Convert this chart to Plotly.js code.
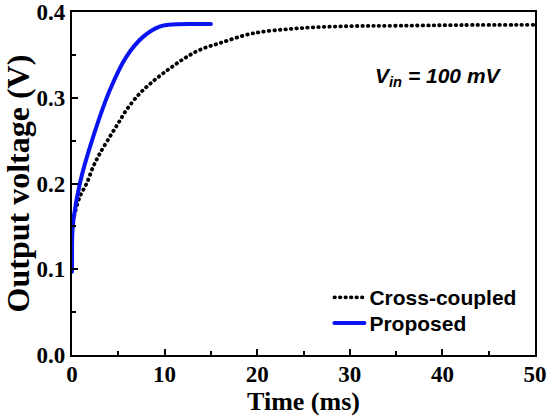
<!DOCTYPE html>
<html><head><meta charset="utf-8">
<script src="https://cdn.plot.ly/plotly-3.0.1.min.js"></script>
<style>html,body{margin:0;padding:0;background:#fff}#chart{width:550px;height:418px}
.js-line{stroke-linecap:round}</style>
</head><body><div id="chart"></div>
<script>
var crossT = [0, 0.1, 0.32, 0.86, 1.58, 2.29, 3.01, 4.09, 4.98, 5.88, 7.31, 8.92, 10.54, 12.15, 13.76, 15.9, 19.5, 24.5, 30, 35.3, 42, 50];
var crossV = [0.15, 0.157, 0.166, 0.185, 0.200, 0.2196, 0.235, 0.2546, 0.270, 0.2857, 0.305, 0.3207, 0.334, 0.346, 0.3557, 0.3635, 0.375, 0.381, 0.3835, 0.384, 0.3848, 0.385];
var propT = [0, 0.03, 0.15, 0.86, 2.29, 4.09, 5.88, 7.67, 9.46, 11.26, 13, 15];
var propV = [0.097, 0.14, 0.157, 0.2006, 0.2546, 0.309, 0.348, 0.371, 0.383, 0.3856, 0.386, 0.386];
var seriesNames = ['Cross-coupled', 'Proposed'];
var xTicks = [0, 10, 20, 30, 40, 50];
var yTicks = [0.0, 0.1, 0.2, 0.3, 0.4];
var noteText = '<i>V<sub>in</sub> = 100 mV</i>';

var serif = '"Liberation Serif", "Times New Roman", serif';
var sans = '"Liberation Sans", Arial, sans-serif';
var legendFont = {family: sans, size: 21, color: '#000', weight: 'bold'};

var traces = [
  {x: crossT, y: crossV, name: seriesNames[0], legend: 'legend', mode: 'lines', line: {color: '#000', width: 3.8, dash: '0.5px,5px', shape: 'spline'}},
  {x: propT, y: propV, name: seriesNames[1], legend: 'legend2', mode: 'lines', line: {color: '#0a14f0', width: 4, shape: 'spline'}}
];
var layout = {
  width: 550, height: 418,
  margin: {l: 72, r: 15, t: 12, b: 63},
  paper_bgcolor: '#fff', plot_bgcolor: '#fff',
  font: {family: serif, size: 23, color: '#000', weight: 'bold'},
  showlegend: true,
  legend: {x: 0.556, y: 0.227, xanchor: 'left', yanchor: 'top', bgcolor: 'rgba(0,0,0,0)', font: legendFont},
  legend2: {x: 0.556, y: 0.152, xanchor: 'left', yanchor: 'top', bgcolor: 'rgba(0,0,0,0)', font: legendFont},
  xaxis: {range: [0, 50], tickmode: 'array', tickvals: xTicks, ticktext: xTicks.map(String),
    showgrid: false, zeroline: false, showline: true, linecolor: '#000', linewidth: 2.2, mirror: true,
    ticks: 'inside', ticklen: 6, tickwidth: 2, tickcolor: '#000', ticklabelstandoff: -3,
    tickfont: {family: serif, size: 23, color: '#000', weight: 'bold'},
    minor: {dtick: 5, tick0: 0, ticks: 'inside', ticklen: 4, tickwidth: 2, tickcolor: '#000'},
    title: {text: 'Time (ms)', font: {family: serif, size: 26, color: '#000', weight: 'bold'}, standoff: 0}},
  yaxis: {range: [0, 0.4], tickmode: 'array', tickvals: yTicks, ticktext: yTicks.map(function(v){return v.toFixed(1);}),
    showgrid: false, zeroline: false, showline: true, linecolor: '#000', linewidth: 2.2, mirror: true,
    ticks: 'inside', ticklen: 6, tickwidth: 2, tickcolor: '#000',
    tickfont: {family: serif, size: 23, color: '#000', weight: 'bold'},
    minor: {dtick: 0.05, tick0: 0, ticks: 'inside', ticklen: 4, tickwidth: 2, tickcolor: '#000'},
    title: {text: 'Output voltage (V)', font: {family: serif, size: 32, color: '#000', weight: 'bold'}, standoff: 0}},
  annotations: [{x: 0.792, y: 0.855, xref: 'paper', yref: 'paper', xanchor: 'center', yanchor: 'top',
    text: noteText, showarrow: false,
    font: {family: sans, size: 21, color: '#000', weight: 'bold'}}]
};
Plotly.newPlot('chart', traces, layout, {displayModeBar: false, staticPlot: true});
</script>
</body></html>
